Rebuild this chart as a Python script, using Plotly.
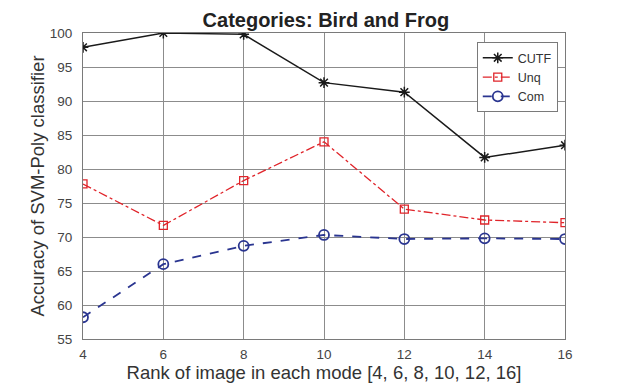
import plotly.graph_objects as go

ranks = [4, 6, 8, 10, 12, 14, 16]
cutf = [97.9, 100.0, 99.8, 92.7, 91.3, 81.7, 83.5]
unq = [77.8, 71.7, 78.3, 84.0, 74.1, 72.5, 72.1]
com = [58.2, 66.0, 68.7, 70.3, 69.7, 69.8, 69.7]

fig = go.Figure()
fig.add_trace(go.Scatter(x=ranks, y=cutf, name="CUTF", mode="lines+markers",
    line=dict(color="#1a1a1a", width=1.5),
    marker=dict(symbol="asterisk", size=9, line=dict(color="#1a1a1a", width=1.5))))
fig.add_trace(go.Scatter(x=ranks, y=unq, name="Unq", mode="lines+markers",
    line=dict(color="#e0242a", width=1.3, dash="dashdot"),
    marker=dict(symbol="square-open", size=8, color="#e0242a", line=dict(width=1.3))))
fig.add_trace(go.Scatter(x=ranks, y=com, name="Com", mode="lines+markers",
    line=dict(color="#2a3590", width=1.8, dash="dash"),
    marker=dict(symbol="circle-open", size=10, color="#2a3590", line=dict(width=1.8))))

fig.update_layout(
    width=627, height=390,
    margin=dict(l=75, r=70, t=25, b=59),
    paper_bgcolor="white", plot_bgcolor="white",
    font=dict(family="Liberation Sans, Arial, sans-serif", color="#333333"),
    title=dict(text="<b>Categories: Bird and Frog</b>", x=(75 + 241) / 627, xanchor="center",
               xref="paper", yref="container", y=1 - 12 / 390, yanchor="middle",
               font=dict(size=20, color="#222222")),
    xaxis=dict(range=[4, 16], tickvals=[4, 6, 8, 10, 12, 14, 16], showgrid=True,
               gridcolor="#8c8c8c", gridwidth=1, showline=True, linecolor="#7a7a7a", mirror=True,
               zeroline=False, ticks="", ticklabelstandoff=3, tickfont=dict(size=13.5, color="#444444"),
               title=dict(text="Rank of image in each mode [4, 6, 8, 10, 12, 16]",
                          font=dict(size=18.5, color="#333333"), standoff=4)),
    yaxis=dict(range=[55, 100], tickvals=list(range(55, 101, 5)), showgrid=True,
               gridcolor="#8c8c8c", gridwidth=1, showline=True, linecolor="#7a7a7a", mirror=True,
               zeroline=False, ticks="", ticklabelstandoff=7, tickfont=dict(size=13.5, color="#444444"),
               title=dict(text="Accuracy of SVM-Poly classifier",
                          font=dict(size=18.5, color="#333333"), standoff=0)),
    legend=dict(x=0.985, y=0.97, xanchor="right", yanchor="top", bgcolor="white",
                bordercolor="#7a7a7a", borderwidth=1, font=dict(size=12.5, color="#333333"),
                tracegroupgap=0, itemwidth=30),
    showlegend=True,
)

fig.write_html("out.html")
